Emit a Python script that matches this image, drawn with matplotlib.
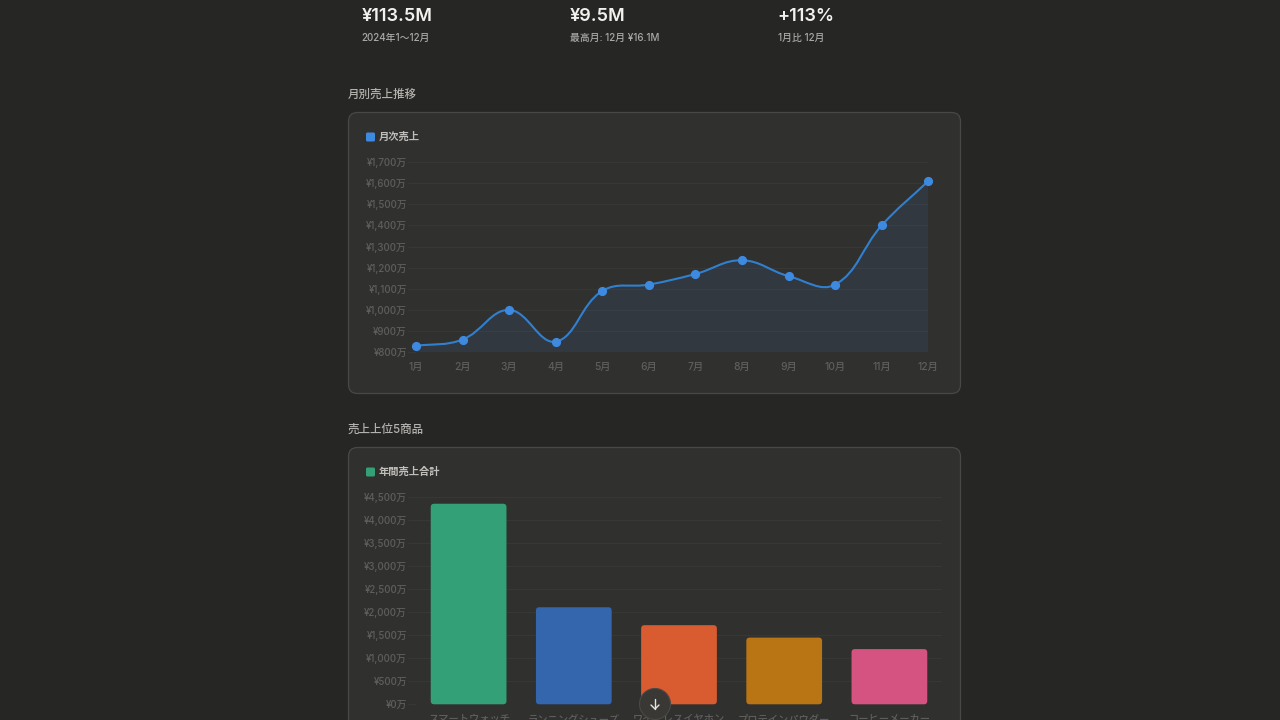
import numpy as np
import matplotlib
matplotlib.use("Agg")
from matplotlib import pyplot as plt
from matplotlib.patches import Circle, FancyBboxPatch, PathPatch
from matplotlib.path import Path

plt.rcParams['font.family'] = ['Inter', 'Noto Sans CJK JP', 'DejaVu Sans']

months = ['1月', '2月', '3月', '4月', '5月', '6月', '7月', '8月', '9月', '10月', '11月', '12月']
monthly_sales = [830, 860, 1000, 850, 1090, 1120, 1170, 1235, 1160, 1120, 1400, 1610]
monthly_ticks = [800, 900, 1000, 1100, 1200, 1300, 1400, 1500, 1600, 1700]

products = ['スマートウォッチ', 'ランニングシューズ', 'ワイヤレスイヤホン', 'プロテインパウダー', 'コーヒーメーカー']
product_sales = [4360, 2110, 1720, 1450, 1200]
product_ticks = [0, 500, 1000, 1500, 2000, 2500, 3000, 3500, 4000, 4500]
product_colors = ['#34a077', '#3366ad', '#d95b30', '#b97514', '#d55380']

kpi_values = ['¥113.5M', '¥9.5M', '+113%']
kpi_notes = ['2024年1〜12月', '最高月: 12月 ¥16.1M', '1月比 12月']

BG = '#262625'
CARD = '#30302e'
BORDER = '#484846'
GRID = '#373735'
TICK = '#5e5e5c'
BLUE = '#3d8ae0'
W, H = 1280, 720

fig = plt.figure(figsize=(W / 100, H / 100), dpi=100, facecolor=BG)


def px_axes(left, top, right, bottom):
    # axes placed by page pixels, y counted from the top
    return fig.add_axes([left / W, 1 - bottom / H, (right - left) / W, (bottom - top) / H])


def style_axes(ax, ticks, labels):
    ax.patch.set_visible(False)
    for s in ax.spines.values():
        s.set_visible(False)
    ax.set_yticks(ticks, labels)
    ax.grid(axis='y', color=GRID, lw=0.8, zorder=0)
    ax.set_axisbelow(True)
    ax.tick_params(axis='y', length=5.8, width=0.8, color=GRID, pad=0.6, labelsize=7, labelcolor=TICK)
    ax.tick_params(axis='x', length=0, pad=7, labelsize=7.4, labelcolor=TICK)
    for lab in ax.get_xticklabels() + ax.get_yticklabels():
        lab.set_fontweight('medium')


# page layer: cards, headings, KPI row
page = fig.add_axes([0, 0, 1, 1], zorder=0)
page.set_xlim(0, W)
page.set_ylim(H, 0)
page.axis('off')

for y0, y1 in [(112.5, 393.5), (447.5, 780)]:
    page.add_patch(FancyBboxPatch((348.5, y0), 612, y1 - y0, boxstyle='round,pad=0,rounding_size=9',
                                  fc=CARD, ec=BORDER, lw=0.9))

for x, val, note in zip([361.5, 569.5, 777.5], kpi_values, kpi_notes):
    page.text(x, 16.5, val, color='#f2f1ee', fontsize=13, fontweight='semibold', va='center')
    page.text(x, 37.5, note, color='#aaa9a5', fontsize=7.1, fontweight='medium', va='center')

page.text(348, 95, '月別売上推移', color='#b3b2ae', fontsize=8.3, fontweight='medium', va='center')
page.text(348, 430, '売上上位5商品', color='#b3b2ae', fontsize=8.3, fontweight='medium', va='center')

for y, label, c in [(137, '月次売上', BLUE), (472, '年間売上合計', product_colors[0])]:
    page.add_patch(FancyBboxPatch((366, y - 4.5), 9, 9, boxstyle='round,pad=0,rounding_size=1.5', fc=c, ec='none'))
    page.text(379, y, label, color='#c0bfbb', fontsize=7.4, fontweight='bold', va='center')

# monthly line chart
ax1 = px_axes(416, 162, 928.3, 352.2)
ax1.set_zorder(1)
ax1.set_xlim(0, 11)
ax1.set_ylim(800, 1700)
ax1.set_xticks(range(12), months)
style_axes(ax1, monthly_ticks, [f'¥{v:,}万' for v in monthly_ticks])

# cubic spline with tension 0.4, control points worked out in screen space
pts = ax1.transData.transform(np.column_stack([np.arange(12), monthly_sales]))
verts = [pts[0]]
codes = [Path.MOVETO]
n = len(pts)
for i in range(n - 1):
    prev_p = pts[max(i - 1, 0)]
    p0, p1 = pts[i], pts[i + 1]
    next_p = pts[min(i + 2, n - 1)]
    d0, d1, d2 = np.linalg.norm(p0 - prev_p), np.linalg.norm(p1 - p0), np.linalg.norm(next_p - p1)
    c1 = p0 + 0.4 * d1 / (d0 + d1) * (p1 - prev_p)
    c2 = p1 - 0.4 * d1 / (d1 + d2) * (next_p - p0)
    verts += [c1, c2, p1]
    codes += [Path.CURVE4] * 3

base = ax1.transData.transform([(11, 800), (0, 800)])
fill_path = Path(verts + [base[0], base[1], verts[0]],
                 codes + [Path.LINETO, Path.LINETO, Path.CLOSEPOLY])
ax1.add_patch(PathPatch(fill_path, transform=None, fc=(0.23, 0.51, 0.86, 0.10), ec='none', zorder=1))
ax1.add_patch(PathPatch(Path(verts, codes), transform=None, fc='none', ec='#3180cf', lw=1.5, zorder=2))
ax1.plot(range(12), monthly_sales, ls='none', marker='o', ms=5.6, mfc=BLUE, mec=BLUE, clip_on=False, zorder=3)

# top products bar chart
ax2 = px_axes(416, 497.3, 942, 704.3)
ax2.set_zorder(1)
ax2.set_xlim(-0.5, 4.5)
ax2.set_ylim(0, 4500)
ax2.set_xticks(range(5), products)
style_axes(ax2, product_ticks, [f'¥{v:,}万' for v in product_ticks])
ax2.tick_params(axis='x', pad=7, labelsize=7.4)

bar_w = 0.72
aspect = (4500 / 207) / (5 / 526)
bars = ax2.bar(range(5), product_sales, width=bar_w, color='none', edgecolor='none')
for b, c in zip(bars, product_colors):
    # same geometry as the bar, with rounded corners
    ax2.add_patch(FancyBboxPatch((b.get_x(), 0), b.get_width(), b.get_height(),
                                 boxstyle='round,pad=0,rounding_size=0.032', mutation_aspect=aspect,
                                 fc=c, ec='none', clip_on=False, zorder=2))

# scroll button over the chart
top = fig.add_axes([0, 0, 1, 1], zorder=3)
top.set_xlim(0, W)
top.set_ylim(H, 0)
top.axis('off')
top.add_patch(Circle((655, 704), 15.5, fc='#3a3835', ec='#4b4946', lw=0.8))
top.plot([655, 655], [698.5, 709], color='#e4e3df', lw=1.0, solid_capstyle='round')
top.plot([651, 655, 659], [705, 709, 705], color='#e4e3df', lw=1.0, solid_capstyle='round', solid_joinstyle='round')

fig.savefig('out.png', dpi=100, facecolor=BG)
